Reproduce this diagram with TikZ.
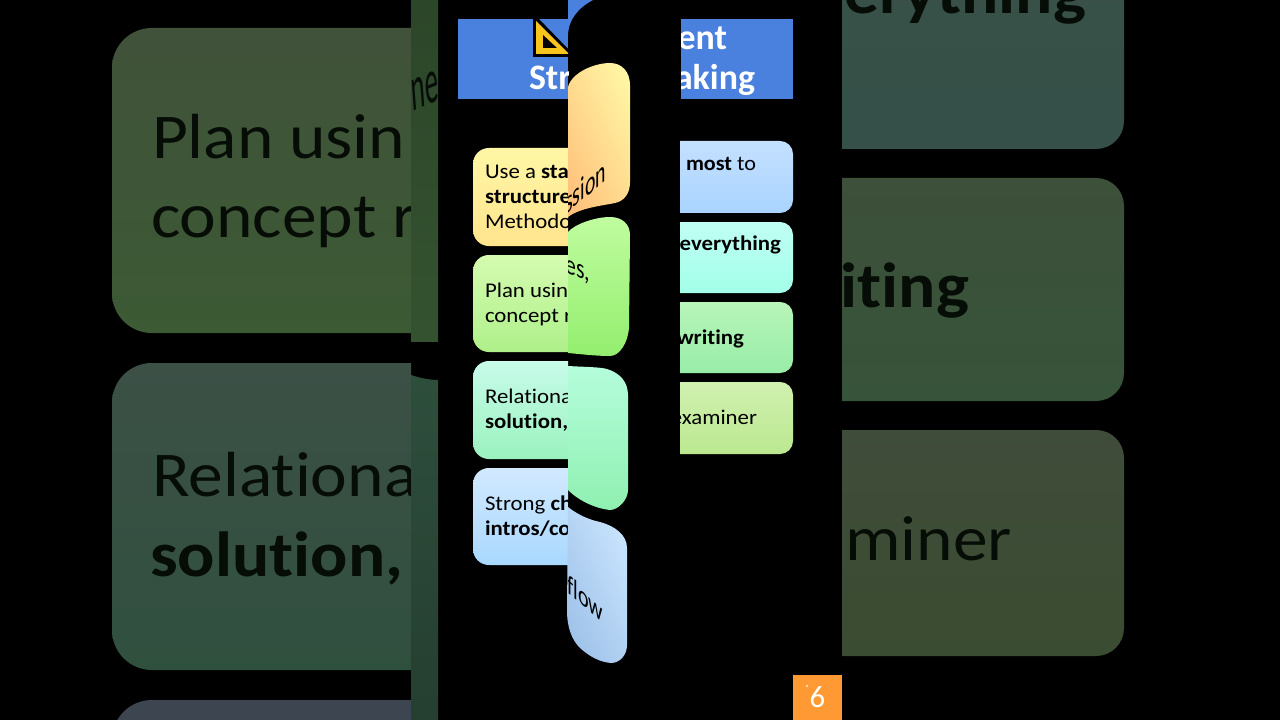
\documentclass[tikz,border=0pt]{standalone}
\usepackage{fontspec}
\setmainfont[Ligatures=NoCommon]{Carlito}
\newcommand{\fsz}[1]{\fontsize{#1}{#1}\selectfont}
\newcommand{\roundcard}[7]{% x1,y1,x2,y2,r,top,bottom
  \shade[rounded corners=#5,top color=#6,bottom color=#7] (#1,#2) rectangle (#3,#4);}
\definecolor{dimink}{HTML}{060C06}
\tikzset{
  x=1bp,y=-1bp,
  cardtext/.style={anchor=base west,inner sep=0pt,outer sep=0pt,font=\fsz{21},text=black,xscale=1.09},
  bigtext/.style={anchor=base west,inner sep=0pt,outer sep=0pt,font=\fsz{64},text=dimink,xscale=1.09},
  bigtextr/.style={anchor=base east,inner sep=0pt,outer sep=0pt,font=\fsz{64},text=dimink,xscale=1.09},
  titletext/.style={inner sep=0pt,outer sep=0pt,font=\fsz{36}\bfseries,text=white},
  curvetext/.style={inner sep=0pt,outer sep=0pt,font=\fsz{30},text=black}
}
\definecolor{titleblue}{HTML}{4A80DE}
\definecolor{dimA}{HTML}{40523A}\definecolor{dimAb}{HTML}{3C5A34}
\definecolor{dimB}{HTML}{3C5046}\definecolor{dimBb}{HTML}{30503E}
\definecolor{dimC}{HTML}{3D4550}
\definecolor{dimD}{HTML}{3C5048}\definecolor{dimDb}{HTML}{345048}
\definecolor{dimE}{HTML}{3D5039}\definecolor{dimEb}{HTML}{37533A}
\definecolor{dimF}{HTML}{404C3A}\definecolor{dimFb}{HTML}{3A4C31}
\definecolor{stripA}{HTML}{345230}\definecolor{stripB}{HTML}{2E4E3C}
\definecolor{yelA}{HTML}{FFF7A6}\definecolor{yelB}{HTML}{FFE48D}
\definecolor{grnA}{HTML}{D5FBB0}\definecolor{grnB}{HTML}{AEF08A}
\definecolor{tealA}{HTML}{C8FBEA}\definecolor{tealB}{HTML}{9AF2BE}
\definecolor{bluA}{HTML}{D2E9FF}\definecolor{bluB}{HTML}{A9D8FF}
\definecolor{rbluA}{HTML}{C4E0FF}\definecolor{rbluB}{HTML}{A9D4FF}
\definecolor{rcyaA}{HTML}{C0FFF4}\definecolor{rcyaB}{HTML}{A2FFE8}
\definecolor{rgrnA}{HTML}{B8F5B8}\definecolor{rgrnB}{HTML}{98EDA8}
\definecolor{rlimA}{HTML}{D0F0B0}\definecolor{rlimB}{HTML}{BCE890}
\definecolor{fragOa}{HTML}{FFC07A}\definecolor{fragOb}{HTML}{FFF8A6}
\definecolor{fragGa}{HTML}{C0FC9F}\definecolor{fragGb}{HTML}{93EE6E}
\definecolor{fragTa}{HTML}{B5FDDC}\definecolor{fragTb}{HTML}{8FF0B0}
\definecolor{fragBa}{HTML}{9CC0E8}\definecolor{fragBb}{HTML}{CCE6FF}
\definecolor{pageorange}{HTML}{FF9933}
\definecolor{squareyellow}{HTML}{F7C51E}
\begin{document}
\begin{tikzpicture}
\fill[black] (0,0) rectangle (1280,720);
\useasboundingbox (0,0) rectangle (1280,720);
% left dimmed panels
\begin{scope}
\clip (0,0) rectangle (411,720);
\roundcard{112}{28}{470}{333}{40}{dimA}{dimAb}
\roundcard{112}{363}{470}{670}{40}{dimB}{dimBb}
\roundcard{112}{700}{470}{1000}{40}{dimC}{dimC}
\node[bigtext] (lefta) at (152,159) {Plan usin};
\node[bigtext] (leftb) at (151,238) {concept r};
\node[bigtext] (leftc) at (152,496) {Relationa};
\node[bigtext,font=\fsz{64}\bfseries] (leftd) at (150,576) {solution,};
\end{scope}
% left strip
\shade[top color=stripA!85!black,bottom color=stripA] (411,0) rectangle (438,341);
\shade[top color=stripB,bottom color=stripB!80!black] (411,375) .. controls (420,378) and (430,380) .. (438,380) -- (438,720) -- (411,720) -- cycle;
\begin{scope}
\clip (411,0) rectangle (438,341);
\node[curvetext,font=\fsz{64},xscale=.42,rotate=10,text=dimink] (nefrag) at (425,91) {ne};
\end{scope}
% right dimmed panels
\begin{scope}
\clip (842,0) rectangle (1280,720);
\roundcard{600}{-180}{1124}{149}{28}{dimD}{dimDb}
\roundcard{600}{178}{1124}{401}{28}{dimE}{dimEb}
\roundcard{600}{430}{1124}{656}{28}{dimF}{dimFb}
\node[bigtextr,font=\fsz{64}\bfseries] (righta) at (1086,14) {erything};
\node[bigtextr,font=\fsz{64}\bfseries] (rightb) at (969,307) {iting};
\node[bigtextr] (rightc) at (1012,560) {miner};
\end{scope}
% title bar, left part
\begin{scope}
\clip (458,19) rectangle (568,99);
\fill[titleblue] (458,19) rectangle (568,99);
\node[titletext,anchor=base west] (titlel) at (529,90) {Str};
\fill[black] (533,19) -- (533,57) -- (568,57) -- (568,49) -- (539,19) -- cycle;
\fill[squareyellow] (536,21) -- (536,54) -- (568,54) -- (568,53) -- cycle;
\draw[black,line width=2.2pt,dash pattern=on 1pt off 1.6pt] (541,23.5) -- (568,50.5);
\fill[black] (543,35) -- (543,48) -- (557,48) -- cycle;
\end{scope}
% title bar, right part
\begin{scope}
\clip (681,19) rectangle (793,99);
\fill[titleblue] (681,19) rectangle (793,99);
\node[titletext,anchor=base east] (titler) at (727,50) {ent};
\node[titletext,anchor=base east] (titles) at (755,90) {aking};
\end{scope}
\fill[titleblue] (568,0) -- (593,0) .. controls (578,8) and (568,20) .. (568,36) -- cycle;
% left column cards
\begin{scope}
\clip (440,100) rectangle (568,600);
\roundcard{473}{148}{640}{246}{16}{yelA}{yelB}
\roundcard{473}{255}{640}{352}{16}{grnA}{grnB}
\roundcard{473}{361}{640}{459}{16}{tealA}{tealB}
\roundcard{473}{468}{640}{565}{16}{bluA}{bluB}
\node[cardtext] (la) at (485,178.5) {Use a \textbf{sta}};
\node[cardtext,font=\fsz{21}\bfseries] (lb) at (485,203.5) {structure};
\node[cardtext] (lc) at (485,228.5) {Methodo};
\node[cardtext] (ld) at (485,297) {Plan usin};
\node[cardtext] (le) at (485,322) {concept r};
\node[cardtext] (lf) at (485,403.5) {Relationa};
\node[cardtext,font=\fsz{21}\bfseries] (lg) at (485,428.5) {solution,};
\node[cardtext] (lh) at (485,510) {Strong \textbf{ch}};
\node[cardtext,font=\fsz{21}\bfseries] (li) at (485,535) {intros/co};
\end{scope}
% right column cards
\begin{scope}
\clip (680,100) rectangle (800,500);
\roundcard{600}{141}{793}{213}{13}{rbluA}{rbluB}
\roundcard{600}{222}{793}{293}{13}{rcyaA}{rcyaB}
\roundcard{600}{302}{793}{373}{13}{rgrnA}{rgrnB}
\roundcard{600}{382}{793}{454}{13}{rlimA}{rlimB}
\node[cardtext,anchor=base east,xscale=.97] (ra) at (756,171) {\textbf{most} to};
\node[cardtext,anchor=base east,font=\fsz{21}\bfseries] (rb) at (781,251) {everything};
\node[cardtext,anchor=base east,font=\fsz{21}\bfseries] (rc) at (744,344) {writing};
\node[cardtext,anchor=base east] (rd) at (757,424) {examiner};
\end{scope}
% curved fragments
\begin{scope}
\clip (568,87) .. controls (572,72) and (595,63) .. (610,63) .. controls (622,63) and (630,72) .. (630,85)
 -- (630,182) .. controls (630,194) and (624,201) .. (615,203) .. controls (600,206) and (580,208) .. (568,217) -- cycle;
\shade[left color=fragOa,right color=fragOb,shading angle=115] (560,55) rectangle (640,225);
\node[curvetext,font=\fsz{33},xscale=.6,yslant=.52,anchor=base east] (fa) at (606,180) {ssion};
\end{scope}
\begin{scope}
\clip (568,232) .. controls (575,224) and (595,217) .. (610,217) .. controls (622,217) and (630,224) .. (630,235)
 -- (629,328) .. controls (628,342) and (620,356) .. (610,356) .. controls (595,356) and (580,354) .. (568,353) -- cycle;
\shade[top color=fragGa,bottom color=fragGb] (568,217) rectangle (631,357);
\node[curvetext,font=\fsz{28},xscale=.78,yslant=-.3,anchor=base east] (fb) at (590,282) {nes,};
\end{scope}
\begin{scope}
\clip (568,366) .. controls (585,367) and (600,367) .. (607,369) .. controls (620,373) and (628,382) .. (628,395)
 -- (628,490) .. controls (628,500) and (618,510) .. (610,510) .. controls (598,509) and (580,502) .. (568,490) -- cycle;
\shade[top color=fragTa,bottom color=fragTb] (568,366) rectangle (629,511);
\end{scope}
\begin{scope}
\clip (568,507) .. controls (578,515) and (590,520) .. (600,522) .. controls (615,526) and (627,535) .. (627,548)
 -- (627,645) .. controls (627,655) and (620,663) .. (611,663) .. controls (600,662) and (590,657) .. (580,648) .. controls (572,640) and (567,628) .. (567,610) -- cycle;
\shade[left color=fragBa,right color=fragBb,shading angle=115] (560,500) rectangle (635,670);
\node[curvetext,font=\fsz{28},xscale=.72,yslant=-.62,anchor=base west] (fc) at (567.5,592) {flow};
\end{scope}
% page number box
\fill[pageorange] (793,675) rectangle (842,720);
\node[inner sep=0pt,font=\fsz{31},text=white] (pagenum) at (817.5,697) {6};
\fill[white!70!pageorange] (807,686) circle (1.3);
\end{tikzpicture}
\end{document}
